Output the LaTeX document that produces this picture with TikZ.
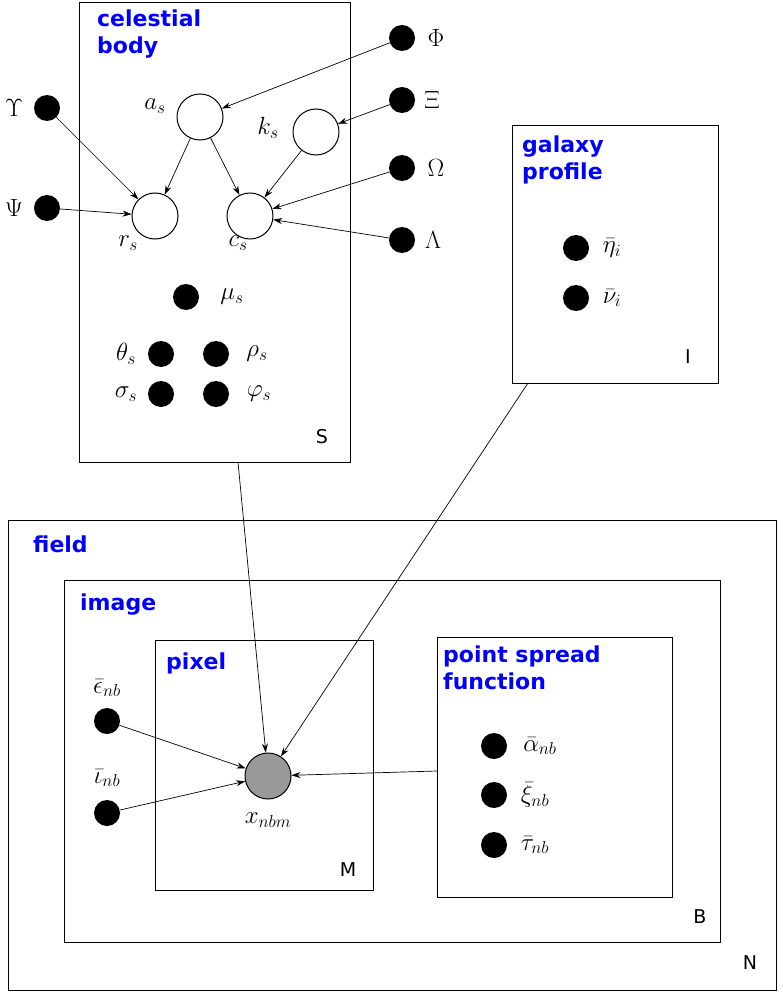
\documentclass[tikz,border=0pt]{standalone}
\usepackage{fontspec}
\setmainfont{DejaVu Sans}
\usetikzlibrary{arrows.meta}
\begin{document}
\begin{tikzpicture}[x=1pt,y=-1pt,
 box/.style={draw,line width=1pt},
 ttl/.style={font=\bfseries\fontsize{22}{27}\selectfont,text=blue,align=left,anchor=north west,inner sep=0pt},
 plate/.style={font=\fontsize{19}{22}\selectfont,inner sep=0pt},
 dot/.style={circle,fill=black,minimum size=26pt,inner sep=0pt},
 lat/.style={circle,draw,fill=white,line width=1pt,minimum size=46pt,inner sep=0pt},
 obs/.style={circle,draw,fill=gray!80,line width=1pt,minimum size=46pt,inner sep=0pt},
 lab/.style={font=\fontsize{27}{29}\selectfont,inner sep=0pt},
 arr/.style={-{Stealth[length=9pt,width=6pt]},line width=0.7pt}]
\useasboundingbox (0,0) rectangle (783,995);
% plates
\draw[box] (79,3) rectangle (350,462);
\node[ttl] at (97,10) {celestial\\body};
\node[plate] at (322,437) {S};
\draw[box] (512,126) rectangle (718,383);
\node[ttl] at (522,136) {galaxy\\profile};
\node[plate] at (688,357) {I};
\draw[box] (8,520) rectangle (776,990);
\node[ttl] at (33,536) {field};
\node[plate] at (750,963) {N};
\draw[box] (64,580) rectangle (720,942);
\node[ttl] at (80,594) {image};
\node[plate] at (700,917) {B};
\draw[box] (155,640) rectangle (373,890);
\node[ttl] at (166,653) {pixel};
\node[plate] at (348,870) {M};
\draw[box] (437,637) rectangle (672,897);
\node[ttl] at (443,646) {point spread\\function};
% celestial nodes
\node[lat] (a) at (200,117) {}; \node[lab] at (155,106) {$a_s$};
\node[lat] (k) at (316,132) {}; \node[lab] at (268,128) {$k_s$};
\node[lat] (r) at (155,216) {}; \node[lab] at (128,243) {$r_s$};
\node[lat] (c) at (250,216) {}; \node[lab] at (238,243) {$c_s$};
\node[dot] (phi) at (402,38) {}; \node[lab] at (436,38) {$\Phi$};
\node[dot] (xi) at (402,100) {}; \node[lab] at (432,100) {$\Xi$};
\node[dot] (om) at (402,168) {}; \node[lab] at (436,168) {$\Omega$};
\node[dot] (la) at (402,240) {}; \node[lab] at (433,240) {$\Lambda$};
\node[dot] (up) at (47,108) {}; \node[lab] at (14,108) {$\Upsilon$};
\node[dot] (ps) at (47,208) {}; \node[lab] at (14,208) {$\Psi$};
\node[dot] (mu) at (186,297) {}; \node[lab] at (232,297) {$\mu_s$};
\node[dot] (th) at (161,354) {}; \node[lab] at (126,354) {$\theta_s$};
\node[dot] (rh) at (216,354) {}; \node[lab] at (257,354) {$\rho_s$};
\node[dot] (si) at (161,394) {}; \node[lab] at (126,394) {$\sigma_s$};
\node[dot] (vp) at (216,394) {}; \node[lab] at (259,394) {$\varphi_s$};
% galaxy
\node[dot] (eta) at (576,248) {}; \node[lab] at (612,248) {$\bar\eta_i$};
\node[dot] (nu) at (576,298) {}; \node[lab] at (612,298) {$\bar\nu_i$};
% pixel
\node[obs] (x) at (268,776) {}; \node[lab] at (268,820) {$x_{nbm}$};
\node[dot] (eps) at (107,721) {}; \node[lab] at (107,688) {$\bar\epsilon_{nb}$};
\node[dot] (io) at (107,813) {}; \node[lab] at (107,778) {$\bar\iota_{nb}$};
\node[dot] (al) at (494,746) {}; \node[lab] at (540,746) {$\bar\alpha_{nb}$};
\node[dot] (xb) at (494,795) {}; \node[lab] at (535,795) {$\bar\xi_{nb}$};
\node[dot] (ta) at (494,845) {}; \node[lab] at (535,845) {$\bar\tau_{nb}$};
\coordinate (cb) at (238,462);
\coordinate (gb) at (528,383);
\coordinate (pl) at (437,771);
% arrows
\draw[arr] (phi) -- (a);
\draw[arr] (xi) -- (k);
\draw[arr] (om) -- (c);
\draw[arr] (la) -- (c);
\draw[arr] (a) -- (r);
\draw[arr] (a) -- (c);
\draw[arr] (k) -- (c);
\draw[arr] (up) -- (r);
\draw[arr] (ps) -- (r);
\draw[arr] (cb) -- (x);
\draw[arr] (gb) -- (x);
\draw[arr] (pl) -- (x);
\draw[arr] (eps) -- (x);
\draw[arr] (io) -- (x);
\end{tikzpicture}
\end{document}
